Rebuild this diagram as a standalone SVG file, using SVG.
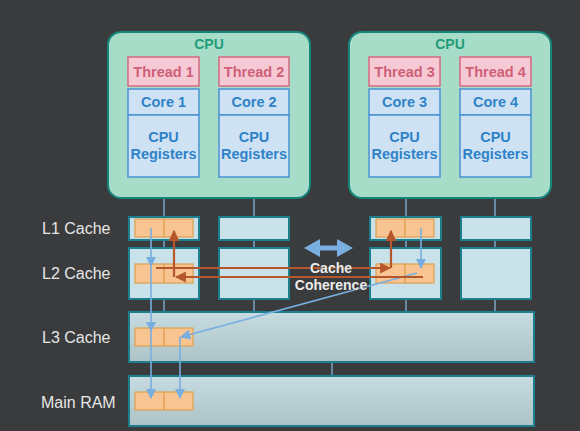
<svg xmlns="http://www.w3.org/2000/svg" width="580" height="431" viewBox="0 0 580 431">
<defs>
<style>
.cpu{fill:#a7dcc9;stroke:#16857a;stroke-width:2}
.thr{fill:#f6cad4;stroke:#d56a80;stroke-width:1.5}
.core{fill:#cfe2f4;stroke:#4a92d2;stroke-width:1.5}
.cache{fill:#c9e2ea;stroke:#1d7f8e;stroke-width:2}
.big{fill:url(#g);stroke:#1d7f8e;stroke-width:2}
.cell{fill:#f7c492;stroke:#e0a04c;stroke-width:1.2}
.bus{stroke:#7aa6c8;stroke-width:1.5;fill:none}
.blue{stroke:#78aee0;stroke-width:1.6;fill:none}
.brown{stroke:#b5572a;stroke-width:2.2;fill:none}
.t{font-family:"Liberation Sans",Arial,sans-serif;font-weight:bold;text-anchor:middle}
.lbl{font-family:"Liberation Sans",Arial,sans-serif;font-size:16px;fill:#e6e6e6}
</style>
<linearGradient id="g" x1="0" y1="0" x2="0" y2="1">
<stop offset="0" stop-color="#c6dce1"/>
<stop offset="1" stop-color="#adc3c7"/>
</linearGradient>
<marker id="ab" viewBox="0 0 10 10" refX="9" refY="5" markerWidth="6.5" markerHeight="6.5" orient="auto-start-reverse">
<path d="M0,0 L10,5 L0,10 z" fill="#78aee0"/>
</marker>
<marker id="ao" viewBox="0 0 10 10" refX="9" refY="5" markerWidth="5" markerHeight="5" orient="auto-start-reverse">
<path d="M0,0 L10,5 L0,10 z" fill="#b5572a"/>
</marker>
</defs>
<rect width="580" height="431" fill="#3a3b3d"/>

<g id="buses">
<line class="bus" x1="164" y1="177" x2="164" y2="312"/>
<line class="bus" x1="254" y1="177" x2="254" y2="312"/>
<line class="bus" x1="406" y1="177" x2="406" y2="312"/>
<line class="bus" x1="495" y1="177" x2="495" y2="312"/>
<line class="bus" x1="332" y1="362" x2="332" y2="376"/>
</g>

<g id="cpu1">
<rect class="cpu" x="108" y="32" width="202" height="166" rx="13"/>
<text class="t" x="209" y="49" font-size="14" fill="#239c78">CPU</text>
</g>
<g id="cpu2">
<rect class="cpu" x="349" y="32" width="202" height="166" rx="13"/>
<text class="t" x="450" y="49" font-size="14" fill="#239c78">CPU</text>
</g>

<g id="thread1"><rect class="thr" x="128" y="57" width="71" height="29"/><text class="t" x="163.5" y="77" font-size="14.5" fill="#cf5f78">Thread 1</text></g>
<g id="thread2"><rect class="thr" x="219" y="57" width="70" height="29"/><text class="t" x="254" y="77" font-size="14.5" fill="#cf5f78">Thread 2</text></g>
<g id="thread3"><rect class="thr" x="369" y="57" width="71" height="29"/><text class="t" x="404.5" y="77" font-size="14.5" fill="#cf5f78">Thread 3</text></g>
<g id="thread4"><rect class="thr" x="460" y="57" width="71" height="29"/><text class="t" x="495.5" y="77" font-size="14.5" fill="#cf5f78">Thread 4</text></g>

<g id="core1"><rect class="core" x="128" y="89" width="71" height="26"/><rect class="core" x="128" y="115" width="71" height="62"/><text class="t" x="163.5" y="107" font-size="14.5" fill="#2e82c9">Core 1</text><text class="t" x="163.5" y="142" font-size="14.5" fill="#2e82c9">CPU</text><text class="t" x="163.5" y="159" font-size="14.5" fill="#2e82c9">Registers</text></g>
<g id="core2"><rect class="core" x="219" y="89" width="70" height="26"/><rect class="core" x="219" y="115" width="70" height="62"/><text class="t" x="254" y="107" font-size="14.5" fill="#2e82c9">Core 2</text><text class="t" x="254" y="142" font-size="14.5" fill="#2e82c9">CPU</text><text class="t" x="254" y="159" font-size="14.5" fill="#2e82c9">Registers</text></g>
<g id="core3"><rect class="core" x="369" y="89" width="71" height="26"/><rect class="core" x="369" y="115" width="71" height="62"/><text class="t" x="404.5" y="107" font-size="14.5" fill="#2e82c9">Core 3</text><text class="t" x="404.5" y="142" font-size="14.5" fill="#2e82c9">CPU</text><text class="t" x="404.5" y="159" font-size="14.5" fill="#2e82c9">Registers</text></g>
<g id="core4"><rect class="core" x="460" y="89" width="71" height="26"/><rect class="core" x="460" y="115" width="71" height="62"/><text class="t" x="495.5" y="107" font-size="14.5" fill="#2e82c9">Core 4</text><text class="t" x="495.5" y="142" font-size="14.5" fill="#2e82c9">CPU</text><text class="t" x="495.5" y="159" font-size="14.5" fill="#2e82c9">Registers</text></g>

<g id="labels">
<text class="lbl" x="42" y="234">L1 Cache</text>
<text class="lbl" x="42" y="279">L2 Cache</text>
<text class="lbl" x="42" y="343">L3 Cache</text>
<text class="lbl" x="41" y="408">Main RAM</text>
</g>

<g id="l1">
<rect class="cache" x="129" y="217" width="70" height="23"/>
<rect class="cache" x="219" y="217" width="70" height="23"/>
<rect class="cache" x="370" y="217" width="71" height="23"/>
<rect class="cache" x="461" y="217" width="70" height="23"/>
<rect class="cell" x="135" y="219" width="29" height="18"/><rect class="cell" x="164" y="219" width="29" height="18"/>
<rect class="cell" x="376" y="219" width="29" height="18"/><rect class="cell" x="405" y="219" width="29" height="18"/>
</g>
<g id="l2">
<rect class="cache" x="129" y="248" width="70" height="51"/>
<rect class="cache" x="219" y="248" width="70" height="51"/>
<rect class="cache" x="370" y="248" width="71" height="51"/>
<rect class="cache" x="461" y="248" width="70" height="51"/>
<rect class="cell" x="135" y="264" width="29" height="19"/><rect class="cell" x="164" y="264" width="29" height="19"/>
<rect class="cell" x="376" y="264" width="29" height="19"/><rect class="cell" x="405" y="264" width="29" height="19"/>
</g>
<g id="l3">
<rect class="big" x="129" y="312" width="405" height="50"/>
<rect class="cell" x="135" y="328" width="29" height="18"/><rect class="cell" x="164" y="328" width="29" height="18"/>
</g>
<g id="ram">
<rect class="big" x="129" y="376" width="405" height="50"/>
<rect class="cell" x="135" y="392" width="29" height="18"/><rect class="cell" x="164" y="392" width="29" height="18"/>
</g>

<g id="connectors">
<line class="blue" x1="151" y1="228" x2="151" y2="266" marker-end="url(#ab)"/>
<line class="blue" x1="151" y1="266" x2="151" y2="331" marker-end="url(#ab)"/>
<line class="blue" x1="151" y1="331" x2="151" y2="398" marker-end="url(#ab)"/>
<line class="blue" x1="421" y1="228" x2="421" y2="268" marker-end="url(#ab)"/>
<line class="blue" x1="417" y1="273" x2="181" y2="337" marker-end="url(#ab)"/>
<line class="blue" x1="180" y1="337" x2="180" y2="398" marker-end="url(#ab)"/>
<line class="brown" x1="156" y1="268" x2="390" y2="268" marker-end="url(#ao)"/>
<line class="brown" x1="391" y1="268" x2="391" y2="231" marker-end="url(#ao)"/>
<line class="brown" x1="423" y1="277" x2="176" y2="277" marker-end="url(#ao)"/>
<line class="brown" x1="174" y1="277" x2="174" y2="231" marker-end="url(#ao)"/>
<polygon points="304,248 320,239 320,245.5 337,245.5 337,239 353,248 337,257 337,250.5 320,250.5 320,257" fill="#78aee0"/>
</g>

<g id="coherence">
<text class="t" x="331" y="273" font-size="14" fill="#ececec" stroke="#3a3b3d" stroke-width="1" paint-order="stroke">Cache</text>
<text class="t" x="331" y="290" font-size="14" fill="#ececec" stroke="#3a3b3d" stroke-width="1" paint-order="stroke">Coherence</text>
</g>
</svg>
